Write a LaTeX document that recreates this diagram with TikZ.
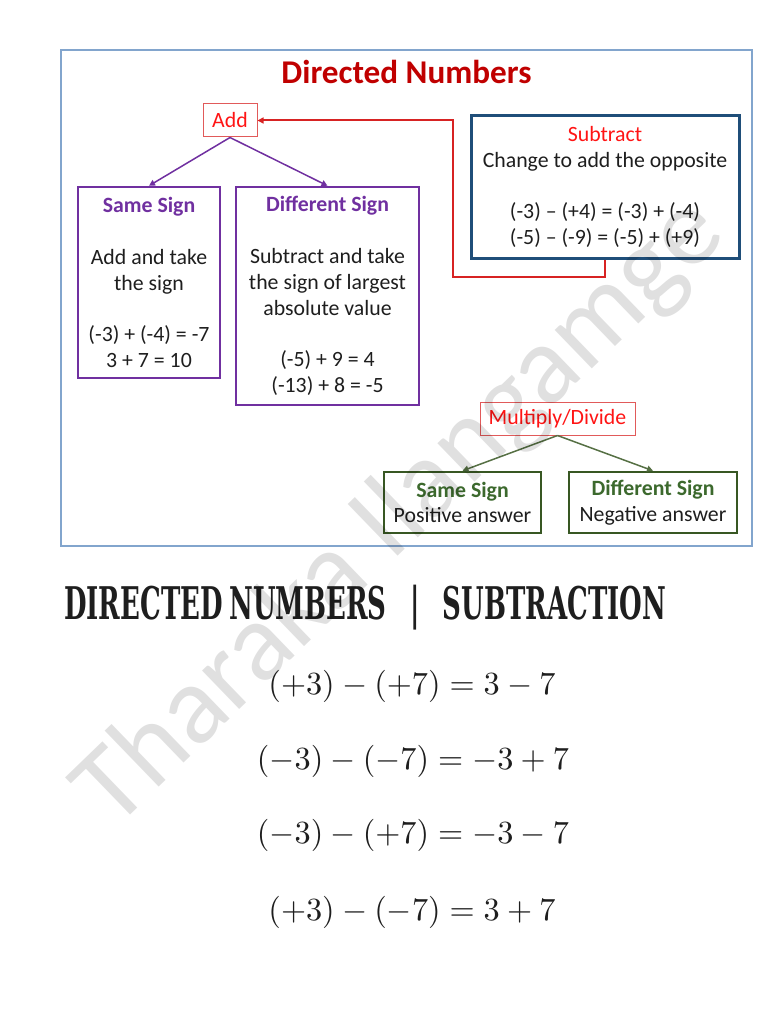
\documentclass[tikz,border=0pt]{standalone}
\usepackage{fontspec}
\setmainfont{Carlito}
\newfontfamily\slabfont{DejaVu Serif}
\usetikzlibrary{arrows.meta}
\definecolor{framecol}{RGB}{130,165,205}
\definecolor{titlered}{RGB}{192,0,0}
\definecolor{labred}{RGB}{255,20,20}
\definecolor{labborder}{RGB}{225,90,90}
\definecolor{linkred}{RGB}{215,35,35}
\definecolor{purp}{RGB}{112,48,160}
\definecolor{navy}{RGB}{31,78,121}
\definecolor{grn}{RGB}{56,87,35}
\definecolor{grntxt}{RGB}{60,105,45}
\definecolor{ink}{RGB}{30,30,30}
\begin{document}
\begin{tikzpicture}[x=1pt,y=1pt,
  body/.style={font=\fontsize{21.8}{25.8}\selectfont, text=ink, align=center, inner sep=0pt},
  labelbox/.style={body, draw=labborder, line width=1pt, text=labred},
  purpbox/.style={body, draw=purp, line width=2.5pt},
  navybox/.style={body, draw=navy, line width=3pt},
  grnbox/.style={body, draw=grn, line width=2.5pt},
  purparrow/.style={draw=purp, line width=1.5pt, -{Triangle[length=6pt,width=6pt]}},
  grnarrow/.style={draw=grn!85!white, line width=1.5pt, -{Triangle[length=6pt,width=6pt]}},
  redlink/.style={draw=linkred, line width=2pt, -{Triangle[length=6pt,width=6pt]}},
  eqn/.style={text=ink, inner sep=0pt}
]
\useasboundingbox (0,0) rectangle (768,-1024);

% frame
\node[draw=framecol, line width=1.2pt, minimum width=691, minimum height=496, inner sep=0pt] (frame) at (406.5,-298) {};

% title
\node[font=\fontsize{33.2}{33.2}\selectfont\bfseries, text=titlered, inner sep=0pt] (title) at (406.5,-72) {Directed Numbers};

% add branch
\node[labelbox, minimum width=54, minimum height=33] (add) at (230,-120.5) {Add};
\node[purpbox, minimum width=142, minimum height=191] (same) at (149,-282.5)
  {\textcolor{purp}{\bfseries Same Sign}\\[25.8pt]
   Add and take\\ the sign\\[25.8pt]
   (-3) + (-4) = -7\\ 3 + 7 = 10};
\node[purpbox, minimum width=183, minimum height=218] (diff) at (327.5,-296)
  {\textcolor{purp}{\bfseries Different Sign}\\[25.8pt]
   Subtract and take\\ the sign of largest\\ absolute value\\[25.8pt]
   (-5) + 9 = 4\\ (-13) + 8 = -5};
\draw[purparrow] (add.south) -- (same.north);
\draw[purparrow] (add.south) -- (diff.north);

% subtract
\node[navybox, minimum width=268, minimum height=142] (sub) at (605,-187)
  {\textcolor{labred}{Subtract}\\ Change to add the opposite\\[25.8pt]
   (-3) – (+4) = (-3) + (-4)\\ (-5) – (-9) = (-5) + (+9)};
\coordinate (bend) at (453,-277);
\draw[redlink] (sub.south) |- (bend) |- (add.east);

% multiply / divide
\node[labelbox, minimum width=155, minimum height=33] (mul) at (557.5,-418.5) {Multiply/Divide};
\node[grnbox, minimum width=157, minimum height=61] (gsame) at (462.5,-502.5)
  {\textcolor{grntxt}{\bfseries Same Sign}\\ Positive answer};
\node[grnbox, minimum width=168, minimum height=61] (gdiff) at (653,-502.5)
  {\textcolor{grntxt}{\bfseries Different Sign}\\ Negative answer};
\draw[grnarrow] (mul.south) -- (gsame.north);
\draw[grnarrow] (mul.south) -- (gdiff.north);

% bottom part
\node[anchor=west, inner sep=0pt, text=ink] (btitle) at (64,-608)
  {\resizebox{602pt}{\height}{\slabfont\bfseries\fontsize{45}{45}\selectfont DIRECTED\hspace{0.25em}NUMBERS\hspace{0.9em}|\hspace{0.9em}SUBTRACTION}};
\node[eqn] (eq1) at (412,-686) {\resizebox{287pt}{!}{$(+3)-(+7)=3-7$}};
\node[eqn] (eq2) at (413,-761) {\resizebox{312pt}{!}{$(-3)-(-7)=-3+7$}};
\node[eqn] (eq3) at (413,-835) {\resizebox{312pt}{!}{$(-3)-(+7)=-3-7$}};
\node[eqn] (eq4) at (412,-912) {\resizebox{287pt}{!}{$(+3)-(-7)=3+7$}};

% watermark
\node[font=\fontsize{112}{112}\selectfont, text=black, text opacity=0.12, rotate=44, inner sep=0pt] (wm) at (401,-513) {Tharaka Ilangamge};
\end{tikzpicture}
\end{document}
